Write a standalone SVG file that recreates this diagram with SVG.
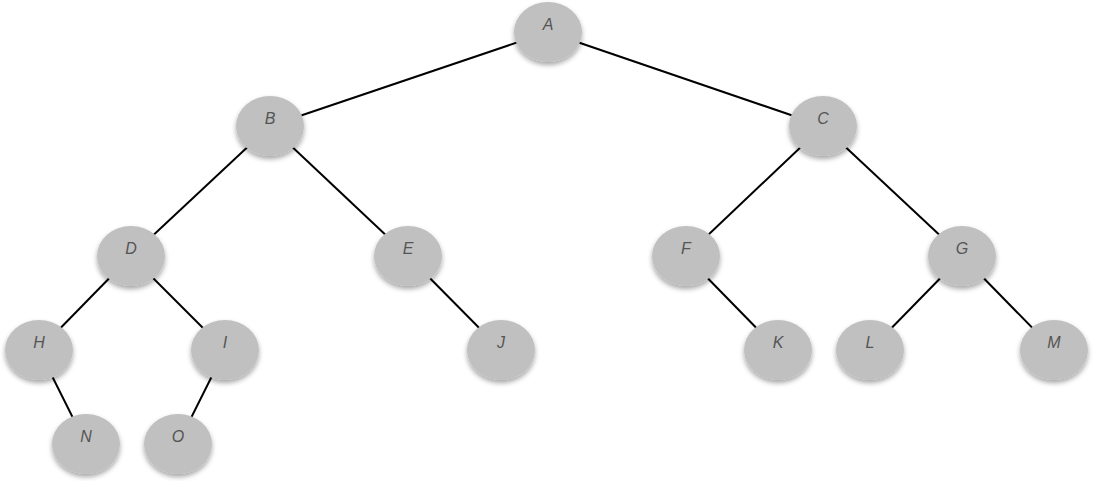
<svg xmlns="http://www.w3.org/2000/svg" width="1094" height="481" viewBox="0 0 1094 481">
<style>
.n ellipse{fill:#c0c0c0;filter:url(#sh)}
.n text{font-family:"Liberation Sans",Arial,sans-serif;font-style:italic;font-size:16px;fill:#555;text-anchor:middle}
.e line{stroke:#000;stroke-width:2}
</style>
<defs><filter id="sh" x="-30%" y="-30%" width="160%" height="170%"><feDropShadow dx="0" dy="3" stdDeviation="2.5" flood-color="#000" flood-opacity="0.35"/></filter></defs>
<rect width="1094" height="481" fill="#fff"/>
<g class="e">
<line x1="548" y1="32" x2="270" y2="126"/><line x1="548" y1="32" x2="823" y2="126"/>
<line x1="270" y1="126" x2="131" y2="256"/><line x1="270" y1="126" x2="408" y2="256"/>
<line x1="823" y1="126" x2="686" y2="256"/><line x1="823" y1="126" x2="962" y2="256"/>
<line x1="131" y1="256" x2="39" y2="350"/><line x1="131" y1="256" x2="225" y2="350"/>
<line x1="408" y1="256" x2="501" y2="350"/><line x1="686" y1="256" x2="778" y2="350"/>
<line x1="962" y1="256" x2="870" y2="350"/><line x1="962" y1="256" x2="1054" y2="350"/>
<line x1="39" y1="350" x2="86" y2="444"/><line x1="225" y1="350" x2="178" y2="444"/>
</g>
<g id="A" class="n"><ellipse cx="548" cy="32" rx="34" ry="30"/><text x="548" y="30">A</text></g>
<g id="B" class="n"><ellipse cx="270" cy="126" rx="34" ry="30"/><text x="270" y="124">B</text></g>
<g id="C" class="n"><ellipse cx="823" cy="126" rx="34" ry="30"/><text x="823" y="124">C</text></g>
<g id="D" class="n"><ellipse cx="131" cy="256" rx="34" ry="30"/><text x="131" y="254">D</text></g>
<g id="E" class="n"><ellipse cx="408" cy="256" rx="34" ry="30"/><text x="408" y="254">E</text></g>
<g id="F" class="n"><ellipse cx="686" cy="256" rx="34" ry="30"/><text x="686" y="254">F</text></g>
<g id="G" class="n"><ellipse cx="962" cy="256" rx="34" ry="30"/><text x="962" y="254">G</text></g>
<g id="H" class="n"><ellipse cx="39" cy="350" rx="34" ry="30"/><text x="39" y="348">H</text></g>
<g id="I" class="n"><ellipse cx="225" cy="350" rx="34" ry="30"/><text x="225" y="348">I</text></g>
<g id="J" class="n"><ellipse cx="501" cy="350" rx="34" ry="30"/><text x="501" y="348">J</text></g>
<g id="K" class="n"><ellipse cx="778" cy="350" rx="34" ry="30"/><text x="778" y="348">K</text></g>
<g id="L" class="n"><ellipse cx="870" cy="350" rx="34" ry="30"/><text x="870" y="348">L</text></g>
<g id="M" class="n"><ellipse cx="1054" cy="350" rx="34" ry="30"/><text x="1054" y="348">M</text></g>
<g id="N" class="n"><ellipse cx="86" cy="444" rx="34" ry="30"/><text x="86" y="442">N</text></g>
<g id="O" class="n"><ellipse cx="178" cy="444" rx="34" ry="30"/><text x="178" y="442">O</text></g>
</svg>
